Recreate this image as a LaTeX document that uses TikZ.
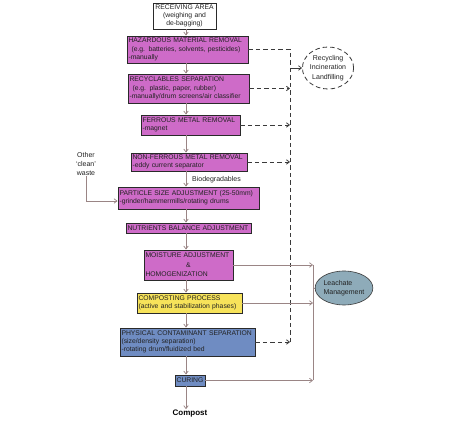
\documentclass[tikz,border=0pt]{standalone}
\usepackage{fontspec}
\setmainfont{Liberation Sans}
\usetikzlibrary{arrows.meta,shapes.geometric,calc}
\definecolor{mag}{HTML}{CE6BC8}
\definecolor{yel}{HTML}{F7E35A}
\definecolor{blu}{HTML}{6F8CC2}
\definecolor{lea}{HTML}{8EABB9}
\definecolor{boxline}{HTML}{2A2A2A}
\definecolor{lineclr}{HTML}{9A8585}
\definecolor{dashclr}{HTML}{3A3A3A}
\definecolor{txt}{HTML}{222222}
\hyphenpenalty=10000
\exhyphenpenalty=10000
\begin{document}
\begin{tikzpicture}[x=1pt,y=-1pt,
 box/.style={draw=boxline, line width=0.9pt, inner sep=1.5pt, font=\fontsize{6.8}{8.3}\selectfont, align=left, anchor=center, text=txt},
 mbox/.style={box, fill=mag},
 conn/.style={draw=lineclr, line width=0.7pt, -{Straight Barb[length=3pt,width=4.5pt]}},
 dsh/.style={draw=dashclr, line width=0.8pt, dash pattern=on 4.5pt off 3pt},
 lbl/.style={font=\fontsize{7}{9}\selectfont, align=center, inner sep=0pt, text=txt}]
\useasboundingbox (0,0) rectangle (474,427);
\fill[white] (0,0) rectangle (474,427);

\node[box, fill=white, minimum width=63, minimum height=26, text width=60, align=center] (recv) at (184.5,16) {RECEIVING AREA\\(weighing and\\de-bagging)};
\node[mbox, minimum width=121, minimum height=27, text width=118] (haz) at (187.5,49.5) {HAZARDOUS MATERIAL REMOVAL\\\hspace*{3pt}(e.g. batteries, solvents, pesticides)\\-manually};
\node[mbox, minimum width=121, minimum height=29, text width=118] (recy) at (188.5,88.5) {RECYCLABLES SEPARATION\\\hspace*{3pt}(e.g. plastic, paper, rubber)\\-manually/drum screens/air classifier};
\node[mbox, minimum width=99, minimum height=20, text width=96] (ferr) at (190.5,125) {FERROUS METAL REMOVAL\\-magnet};
\node[mbox, minimum width=116, minimum height=18, text width=113] (nonf) at (189,162) {NON-FERROUS METAL REMOVAL\\-eddy current separator};
\node[mbox, minimum width=141, minimum height=22, text width=138] (part) at (188.5,198) {PARTICLE SIZE ADJUSTMENT (25-50mm)\\-grinder/hammermills/rotating drums};
\node[mbox, minimum width=125, minimum height=10, text width=122, inner sep=1pt] (nutr) at (188.5,228) {NUTRIENTS BALANCE ADJUSTMENT};
\node[mbox, minimum width=89, minimum height=30, text width=86, font=\fontsize{6.8}{9.5}\selectfont] (mois) at (188.5,265) {MOISTURE ADJUSTMENT\\\hfill\&\hfill\null\\HOMOGENIZATION};
\node[box, fill=yel, minimum width=105, minimum height=20, text width=102] (comp) at (189.5,303) {COMPOSTING PROCESS\\(active and stabilization phases)};
\node[box, fill=blu, minimum width=135, minimum height=28, text width=132] (phys) at (187.5,342) {PHYSICAL CONTAMINANT SEPARATION\\(size/density separation)\\-rotating drum/fluidized bed};
\node[box, fill=blu, minimum width=30, minimum height=11, align=center, inner sep=1pt] (cur) at (190,380.5) {CURING};
\node[font=\fontsize{8}{9}\selectfont\bfseries, inner sep=1pt] (compost) at (190,414) {Compost};

\node[lbl] (other) at (86,164) {Other\\`clean'\\waste};
\node[lbl, anchor=west] (bio) at (192,180) {Biodegradables};

\node[ellipse, dsh, minimum width=48, minimum height=42, inner sep=0pt, font=\fontsize{7}{9.5}\selectfont, align=center, text=txt] (rec) at (328,68) {Recycling\\Incineration\\Landfilling};
\node[ellipse, draw=dashclr, line width=0.6pt, fill=lea, minimum width=56, minimum height=34, inner sep=0pt, font=\fontsize{7}{9.5}\selectfont, align=left, text=txt] (leach) at (344,288) {Leachate\\Management};

\coordinate (m) at (186,0);
\coordinate (dv) at (290,50);
\coordinate (lv) at (313,0);

\foreach \a/\b in {recv/haz, haz/recy, recy/ferr, ferr/nonf, nonf/part, part/nutr, nutr/mois, mois/comp, comp/phys, phys/cur, cur/compost}
  \draw[conn] (\a.south -| m) -- (\b.north -| m);

\draw[conn] (other.south) |- ([yshift=-3pt]part.west);

\draw[dsh] (haz.east) -- (haz.east -| dv) -- (phys.east -| dv);
\foreach \a in {recy, ferr, nonf, phys}
  \draw[dsh, -{Straight Barb[length=3pt,width=4.5pt]}] (\a.east) -- (\a.east -| dv);
\draw[draw=dashclr, line width=0.7pt, -{Straight Barb[length=3pt,width=4.5pt]}] (rec.west -| dv) -- (rec.west);

\foreach \a in {mois, comp, cur}
  \draw[conn] (\a.east) -- (\a.east -| lv);
\draw[draw=lineclr, line width=0.7pt] (mois.east -| lv) -- (cur.east -| lv);
\draw[draw=lineclr, line width=0.7pt] (leach.west -| lv) -- (leach.west);
\end{tikzpicture}
\end{document}
